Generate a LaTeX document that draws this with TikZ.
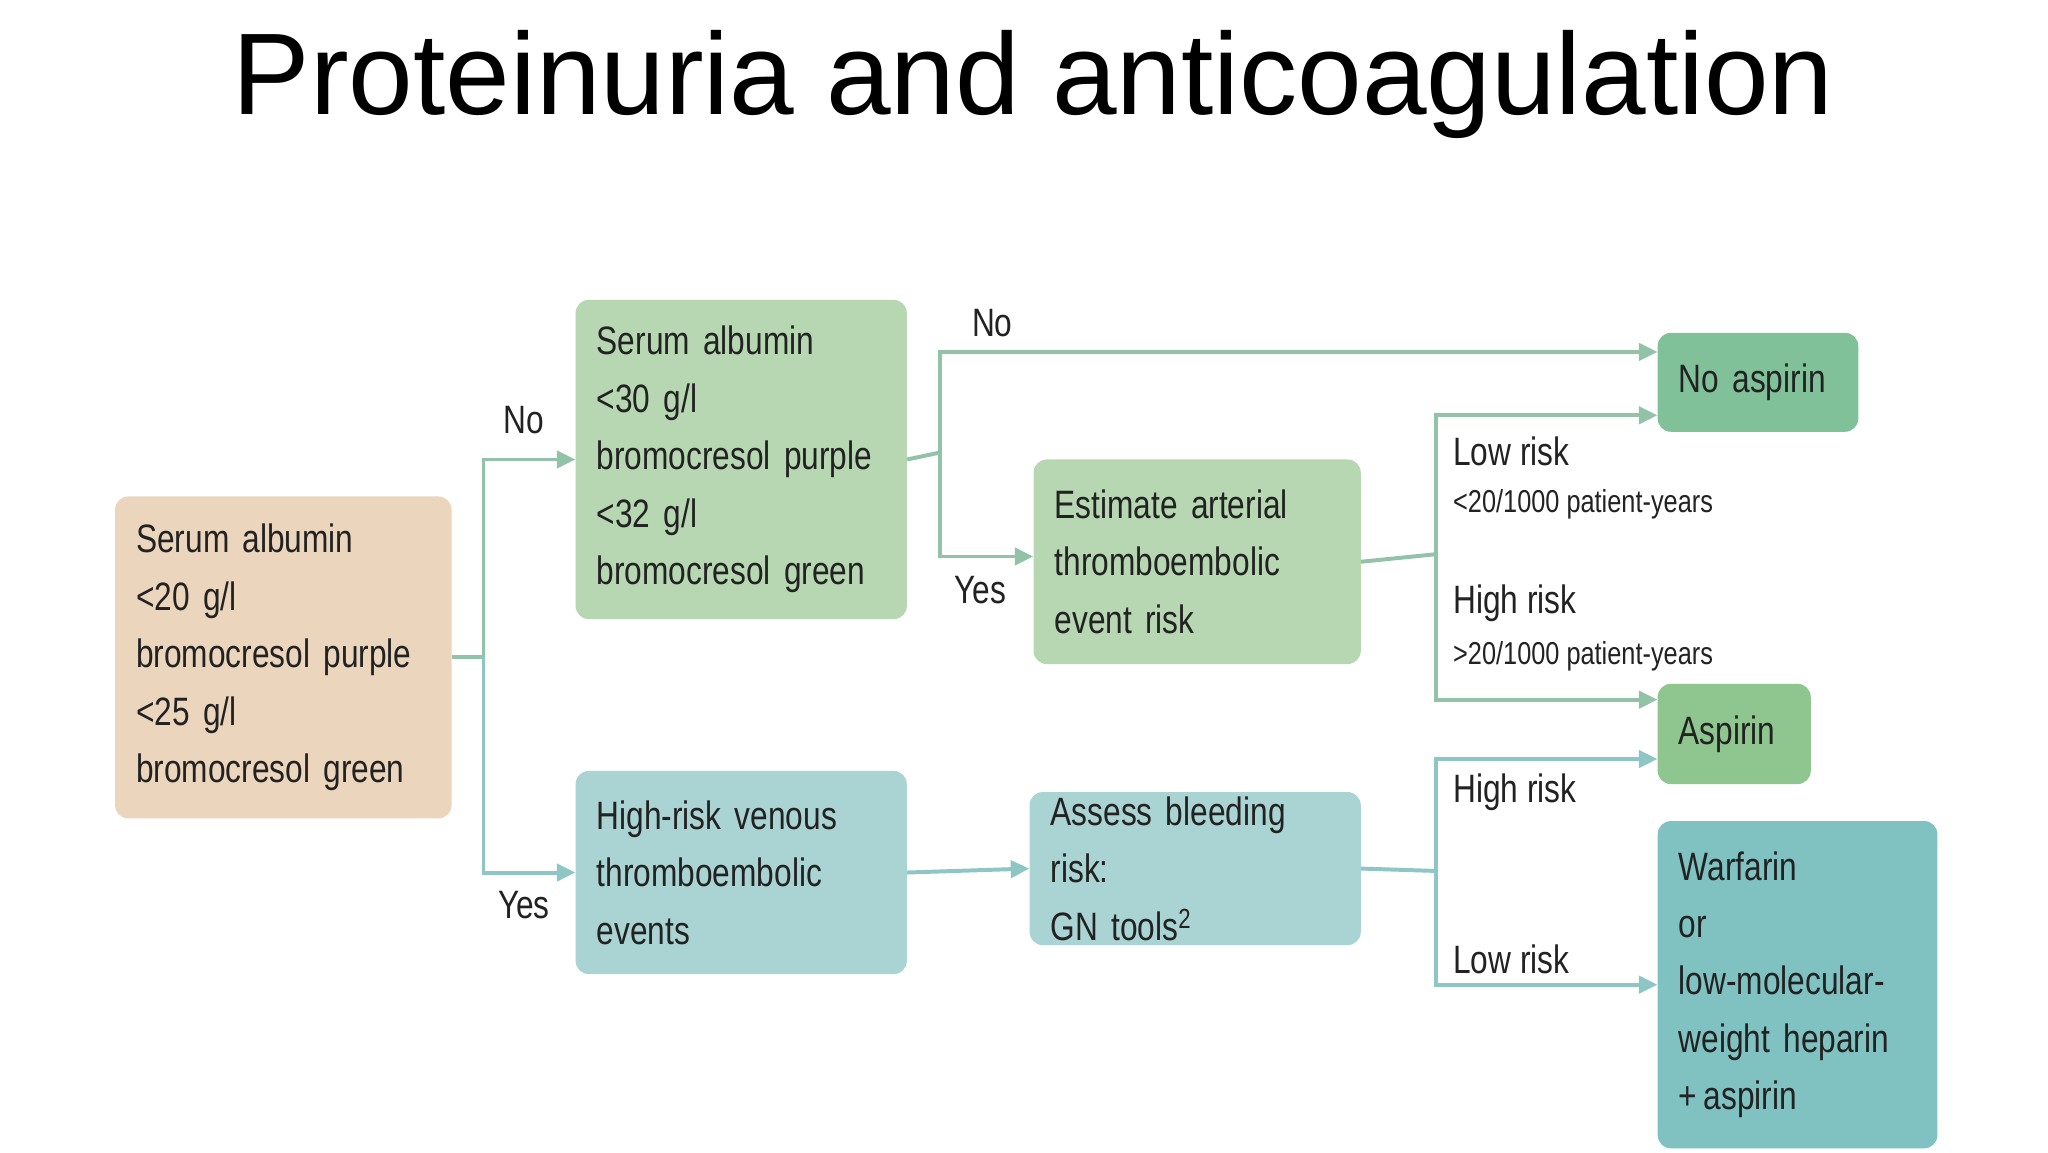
\documentclass[tikz,border=0pt]{standalone}
\usepackage{fontspec}
\setmainfont{Liberation Sans}[FakeStretch=0.8]
\newfontfamily\titlefont{Liberation Sans}
\usetikzlibrary{arrows.meta,calc}
\definecolor{tanc}{HTML}{EBD5BC}
\definecolor{grn}{HTML}{B6D7B1}
\definecolor{grnd}{HTML}{80C19A}
\definecolor{grnm}{HTML}{8FC690}
\definecolor{tea}{HTML}{AAD4D3}
\definecolor{tead}{HTML}{7FC2C1}
\definecolor{lng}{HTML}{92C3A8}
\definecolor{lnt}{HTML}{8EC6C6}
\definecolor{txt}{HTML}{222222}
\tikzset{
 bx/.style={rounded corners=10pt, anchor=north west, inner xsep=16pt, inner ysep=0pt, align=left, text=txt,
   font=\fontsize{30}{43.5}\selectfont},
 ln/.style={line width=3pt, draw=#1},
 arr/.style={line width=3pt, draw=#1, -{Triangle[width=13pt,length=14pt]}, color=#1},
 lab/.style={text=txt, font=\fontsize{30}{36}\selectfont, inner sep=0pt},
 sml/.style={text=txt, font=\fontsize{24}{28}\selectfont, inner sep=0pt}
}
\begin{document}
\begin{tikzpicture}[x=1pt,y=-1pt]
\useasboundingbox (0,0) rectangle (1552,873);
\fill[white] (0,0) rectangle (1552,873);
\node[font=\titlefont\fontsize{88}{100}\selectfont, inner sep=0pt] (title) at (783,64) {Proteinuria and anticoagulation};

\node[bx, fill=tanc, minimum width=255pt, minimum height=244pt, text width=223pt] (tan) at (87,376)
 {Serum albumin\\<20 g/l\\bromocresol purple\\<25 g/l\\bromocresol green};
\node[bx, fill=grn, minimum width=251pt, minimum height=242pt, text width=219pt] (alb) at (436,227)
 {Serum albumin\\<30 g/l\\bromocresol purple\\<32 g/l\\bromocresol green};
\node[bx, fill=grn, minimum width=248pt, minimum height=155pt, text width=216pt] (est) at (783,348)
 {Estimate arterial\\thromboembolic\\event risk};
\node[bx, fill=grnd, minimum width=152pt, minimum height=75pt, text width=120pt] (noasp) at (1256,252)
 {No aspirin};
\node[bx, fill=grnm, minimum width=116pt, minimum height=76pt, text width=84pt] (asp) at (1256,518)
 {Aspirin};
\node[bx, fill=tea, minimum width=251pt, minimum height=154pt, text width=219pt] (ven) at (436,584)
 {High-risk venous\\thromboembolic\\events};
\node[bx, fill=tea, minimum width=251pt, minimum height=116pt, text width=219pt] (ble) at (780,600)
 {Assess bleeding risk:\\GN tools\textsuperscript{2}};
\node[bx, fill=tead, minimum width=202pt, minimum height=248pt, text width=180pt, inner xsep=16pt] (war) at (1256,622)
 {Warfarin\\or\\low-molecular-\\weight heparin\\+\,aspirin};

% tan splits
\coordinate (j1) at ($(tan.east)+(24,0)$);
\draw[ln=lng] (tan.east) -- (j1);
\draw[arr=lng] (j1) |- (alb.west);
\draw[arr=lnt] (j1) |- (ven.west);
\node[lab] (lno1) at (397,318) {No};
\node[lab] (lyes1) at (397,686) {Yes};
% albumin splits
\coordinate (j2) at (712,343);
\draw[ln=lng] (alb.east) -- (j2);
\draw[arr=lng] (j2) |- ($(noasp.west)+(0,-23)$);
\draw[arr=lng] (j2) |- ($(est.west)+(0,-4)$);
\node[lab] (lno2) at (752,245) {No};
\node[lab] (lyes2) at (743,447) {Yes};
% estimate splits
\coordinate (j3) at (1088,420);
\draw[ln=lng] (est.east) -- (j3);
\draw[arr=lng] (j3) |- ($(noasp.west)+(0,25)$);
\draw[arr=lng] (j3) |- ($(asp.west)+(0,-26)$);
\node[lab, anchor=west] (llow1) at (1101,342) {Low risk};
\node[sml, anchor=west] (s1) at (1101,382) {<20/1000 patient-years};
\node[lab, anchor=west] (lhi1) at (1101,457) {High risk};
\node[sml, anchor=west] (s2) at (1101,497) {>20/1000 patient-years};
% venous
\draw[arr=lnt] (ven.east) -- (ble.west);
% bleeding splits
\coordinate (j4) at (1088,660);
\draw[ln=lnt] (ble.east) -- (j4);
\draw[arr=lnt] (j4) |- ($(asp.west)+(0,19)$);
\draw[arr=lnt] (j4) |- (war.west);
\node[lab, anchor=west] (lhi2) at (1101,600) {High risk};
\node[lab, anchor=west] (llow2) at (1101,727) {Low risk};
\end{tikzpicture}
\end{document}
